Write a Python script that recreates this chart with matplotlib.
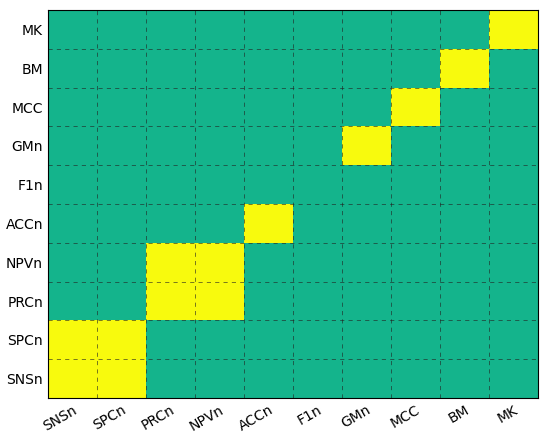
import numpy as np
import matplotlib.pyplot as plt
from matplotlib.colors import ListedColormap

# measure names, bottom row to top row / left to right
measures = ["SNSn", "SPCn", "PRCn", "NPVn", "ACCn", "F1n", "GMn", "MCC", "BM", "MK"]

# pairs of measures that are equivalent (yellow cells)
groups = [["SNSn", "SPCn"], ["PRCn", "NPVn"], ["ACCn"], ["GMn"], ["MCC"], ["BM"], ["MK"]]

n = len(measures)
mat = np.zeros((n, n))
for g in groups:
    for a in g:
        for b in g:
            mat[measures.index(a), measures.index(b)] = 1

fig = plt.figure(figsize=(5.5, 4.36), dpi=100)
ax = fig.add_axes([0.087, 0.087, 0.891, 0.89])
cmap = ListedColormap(["#14b48c", "#f8fa0d"])
ax.pcolormesh(np.arange(n + 1), np.arange(n + 1), mat, cmap=cmap, vmin=0, vmax=1)

ax.set_xticks(np.arange(n) + 0.5)
ax.set_xticklabels(measures, rotation=30, ha="right", rotation_mode="anchor", fontsize=10)
ax.set_yticks(np.arange(n) + 0.5)
ax.set_yticklabels(measures, fontsize=10)
ax.tick_params(length=0)

for k in range(1, n):
    ax.axhline(k, color="#222222", linestyle=(0, (5, 5)), linewidth=0.6, alpha=0.7)
    ax.axvline(k, color="#222222", linestyle=(0, (5, 5)), linewidth=0.6, alpha=0.7)

ax.set_xlim(0, n)
ax.set_ylim(0, n)
fig.savefig("out.png")
